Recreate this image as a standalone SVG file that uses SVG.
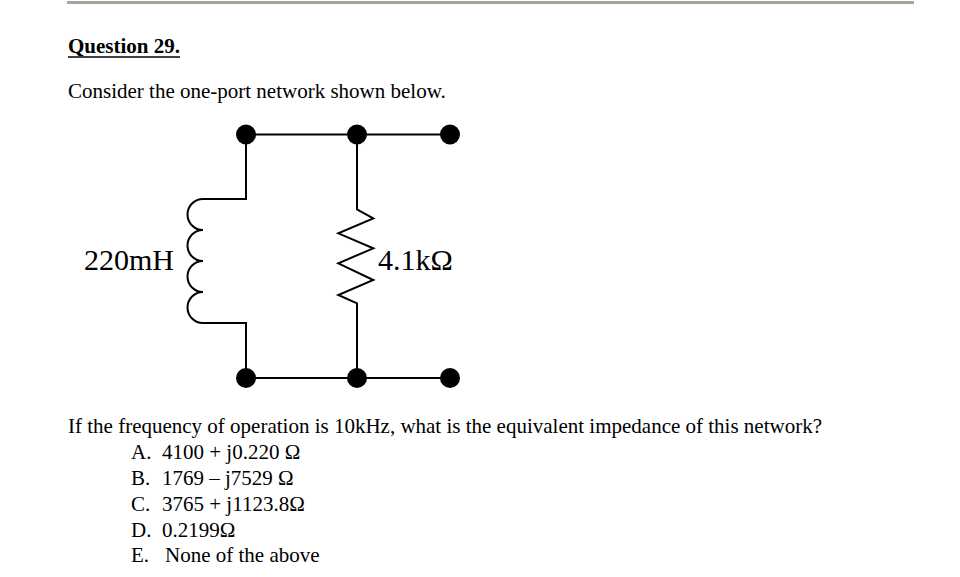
<svg xmlns="http://www.w3.org/2000/svg" width="960" height="577" viewBox="0 0 960 577">
<style>
text{font-family:"Liberation Serif","Times New Roman",serif;font-size:21px;fill:#000}
.big{font-size:30px}
.w{fill:none;stroke:#000;stroke-width:2}
.d{fill:#000}
</style>
<rect width="960" height="577" fill="#fff"/>
<line x1="67" y1="2.5" x2="914" y2="2.5" stroke="#a8a49c" stroke-width="3"/>
<text x="68" y="53" font-weight="bold">Question 29.</text>
<line x1="68" y1="57" x2="180" y2="57" stroke="#000" stroke-width="1.5"/>
<text x="68" y="98">Consider the one-port network shown below.</text>
<g id="connectors">
<path class="w" d="M246 134.5H450M246 378H450"/>
<path class="w" d="M246 134.5V199H203M203 323H246V378"/>
<path class="w" d="M357 134.5V209.3L373.3 218.3L338.3 233.3L373.3 248.3L338.3 263.3L373.3 280L338.3 295L357 303.3V378"/>
</g>
<g id="inductor">
<path class="w" d="M203 199A15.5 15.5 0 0 0 203 230A15.5 15.5 0 0 0 203 261A15.5 15.5 0 0 0 203 292A15.5 15.5 0 0 0 203 323"/>
<text class="big" x="84" y="270">220mH</text>
</g>
<g id="resistor"><text class="big" x="378" y="270">4.1kΩ</text></g>
<g id="nodes">
<circle class="d" cx="246" cy="134.5" r="10"/><circle class="d" cx="357" cy="134.5" r="10"/><circle class="d" cx="450" cy="134.5" r="10"/>
<circle class="d" cx="246" cy="378" r="10"/><circle class="d" cx="357" cy="378" r="10"/><circle class="d" cx="450" cy="378" r="10"/>
</g>
<text x="68" y="433">If the frequency of operation is 10kHz, what is the equivalent impedance of this network?</text>
<text x="131" y="459">A.</text><text x="162" y="459">4100 + j0.220 Ω</text>
<text x="131" y="485">B.</text><text x="162" y="485">1769 – j7529 Ω</text>
<text x="131" y="511">C.</text><text x="162" y="511">3765 + j1123.8Ω</text>
<text x="131" y="537">D.</text><text x="162" y="537">0.2199Ω</text>
<text x="131" y="562">E.</text><text x="165" y="562">None of the above</text>
</svg>
